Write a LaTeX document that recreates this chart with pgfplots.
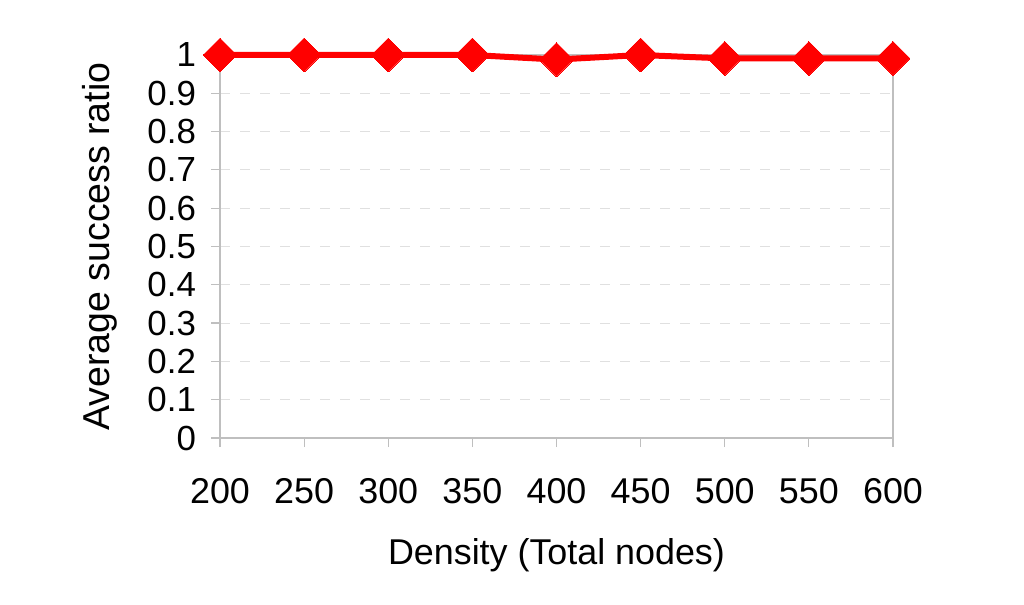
\documentclass[border=0pt]{standalone}
\usepackage{pgfplots}
\pgfplotsset{compat=1.18}
\usepackage{fontspec}
\setmainfont{Liberation Sans}
\begin{document}
\begin{tikzpicture}
\useasboundingbox (0,0) rectangle (512bp,302.5bp);
\begin{axis}[
  at={(110bp,83.5bp)}, anchor=south west,
  scale only axis, width=336.5bp, height=191.5bp,
  xmin=200, xmax=600, ymin=0, ymax=1,
  xtick={200,250,...,600}, ytick={0,0.1,...,1},
  yticklabels={0,0.1,0.2,0.3,0.4,0.5,0.6,0.7,0.8,0.9,1},
  xtick pos=bottom, ytick pos=left, tick align=outside,
  major tick length=4.5bp,
  every tick/.style={draw=black!25, line width=0.6bp},
  axis line style={draw=black!25, line width=0.6bp},
  ymajorgrids, grid style={draw=black!12, dash pattern=on 5bp off 5bp, line width=0.5bp},
  /pgf/number format/assume math mode=true,
  yticklabel style={font=\fontsize{17.5}{20}\selectfont, xshift=-4bp},
  xticklabel style={font=\fontsize{18}{21}\selectfont, yshift=-12bp},
  xlabel={Density (Total nodes)},
  ylabel={Average success ratio},
  xlabel style={font=\fontsize{18}{21}\selectfont, at={(axis description cs:0.5,-0.3055)}, anchor=center},
  ylabel style={font=\fontsize{18.8}{21}\selectfont, at={(axis description cs:-0.178,0.5)}, anchor=center},
  clip=false,
]
\addplot[red, line width=3bp, mark=square*, mark size=6bp, mark options={rotate=45, solid, fill=red, line width=0pt}]
 coordinates {(200,1) (250,1) (300,1) (350,1) (400,0.988) (450,1) (500,0.991) (550,0.991) (600,0.991)};
\end{axis}
\end{tikzpicture}
\end{document}
